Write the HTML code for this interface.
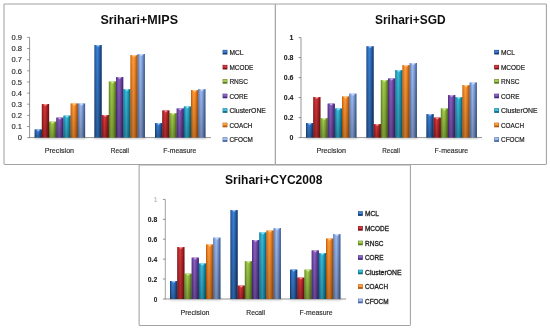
<!DOCTYPE html><html><head><meta charset="utf-8"><title>Srihari charts</title>
<style>html,body{margin:0;padding:0;background:#fff;}body{width:550px;height:330px;overflow:hidden;}svg{display:block;font-family:"Liberation Sans",sans-serif;}</style></head><body>
<svg width="550" height="330" viewBox="0 0 550 330">
<defs>
<linearGradient id="gMCL" x1="0" x2="1" y1="0" y2="0"><stop offset="0" stop-color="#183d78"/><stop offset="0.16" stop-color="#2a66b4"/><stop offset="0.4" stop-color="#3c84d8"/><stop offset="0.66" stop-color="#2a66b4"/><stop offset="0.9" stop-color="#183d78"/><stop offset="1" stop-color="#183d78"/></linearGradient>
<linearGradient id="gMCODE" x1="0" x2="1" y1="0" y2="0"><stop offset="0" stop-color="#78161a"/><stop offset="0.16" stop-color="#b82528"/><stop offset="0.4" stop-color="#d83a3e"/><stop offset="0.66" stop-color="#b82528"/><stop offset="0.9" stop-color="#78161a"/><stop offset="1" stop-color="#78161a"/></linearGradient>
<linearGradient id="gRNSC" x1="0" x2="1" y1="0" y2="0"><stop offset="0" stop-color="#5c7c20"/><stop offset="0.16" stop-color="#88b236"/><stop offset="0.4" stop-color="#a6d050"/><stop offset="0.66" stop-color="#88b236"/><stop offset="0.9" stop-color="#5c7c20"/><stop offset="1" stop-color="#5c7c20"/></linearGradient>
<linearGradient id="gCORE" x1="0" x2="1" y1="0" y2="0"><stop offset="0" stop-color="#472c7c"/><stop offset="0.16" stop-color="#6f46a4"/><stop offset="0.4" stop-color="#8c62c2"/><stop offset="0.66" stop-color="#6f46a4"/><stop offset="0.9" stop-color="#472c7c"/><stop offset="1" stop-color="#472c7c"/></linearGradient>
<linearGradient id="gClusterONE" x1="0" x2="1" y1="0" y2="0"><stop offset="0" stop-color="#146c86"/><stop offset="0.16" stop-color="#229cbc"/><stop offset="0.4" stop-color="#3cc0de"/><stop offset="0.66" stop-color="#229cbc"/><stop offset="0.9" stop-color="#146c86"/><stop offset="1" stop-color="#146c86"/></linearGradient>
<linearGradient id="gCOACH" x1="0" x2="1" y1="0" y2="0"><stop offset="0" stop-color="#b45808"/><stop offset="0.16" stop-color="#f07e1a"/><stop offset="0.4" stop-color="#ffa040"/><stop offset="0.66" stop-color="#f07e1a"/><stop offset="0.9" stop-color="#b45808"/><stop offset="1" stop-color="#b45808"/></linearGradient>
<linearGradient id="gCFOCM" x1="0" x2="1" y1="0" y2="0"><stop offset="0" stop-color="#4a68a2"/><stop offset="0.16" stop-color="#7a9ad6"/><stop offset="0.4" stop-color="#a2bef0"/><stop offset="0.66" stop-color="#7a9ad6"/><stop offset="0.9" stop-color="#4a68a2"/><stop offset="1" stop-color="#4a68a2"/></linearGradient>
<linearGradient id="shade" x1="0" x2="0" y1="0" y2="1"><stop offset="0" stop-color="#000" stop-opacity="0"/><stop offset="1" stop-color="#000" stop-opacity="0.26"/></linearGradient>
<filter id="soft" x="-5%" y="-5%" width="110%" height="110%"><feGaussianBlur stdDeviation="0.35"/></filter>
<filter id="sh" x="-5%" y="-50%" width="110%" height="200%"><feGaussianBlur stdDeviation="0.8"/></filter>
</defs>
<rect width="550" height="330" fill="#ffffff"/>
<g filter="url(#soft)">
<rect x="4" y="4" width="271.4" height="160.4" fill="#fff" stroke="#a2a2a2" stroke-width="1.05" rx="0.8"/>
<rect x="275.4" y="4" width="271.0" height="160.4" fill="#fff" stroke="#a2a2a2" stroke-width="1.05" rx="0.8"/>
<rect x="139.1" y="165" width="271.29999999999995" height="160.39999999999998" fill="#fff" stroke="#a2a2a2" stroke-width="1.05" rx="0.8"/>
<text x="100.4" y="23.6" font-size="12.6" font-weight="bold" fill="#111" textLength="77.6" lengthAdjust="spacingAndGlyphs">Srihari+MIPS</text>
<rect x="34.6" y="137.29999999999998" width="51.199999999999996" height="1.6" fill="#555" opacity="0.35" filter="url(#sh)"/>
<rect x="94.4" y="137.29999999999998" width="51.199999999999996" height="1.6" fill="#555" opacity="0.35" filter="url(#sh)"/>
<rect x="155" y="137.29999999999998" width="51.199999999999996" height="1.6" fill="#555" opacity="0.35" filter="url(#sh)"/>
<path d="M29.6 37.4V137.6" fill="none" stroke="#707070" stroke-width="0.75"/>
<path d="M29.200000000000003 137.6H211" fill="none" stroke="#707070" stroke-width="0.75"/>
<path d="M27.200000000000003 137.6H29.6" stroke="#707070" stroke-width="0.75"/>
<text x="22" y="140.3" font-size="7.6" text-anchor="end" fill="#1a1a1a" stroke="#1a1a1a" stroke-width="0.1">0</text>
<path d="M27.200000000000003 126.5H29.6" stroke="#707070" stroke-width="0.75"/>
<text x="22" y="129.2" font-size="7.6" text-anchor="end" fill="#1a1a1a" stroke="#1a1a1a" stroke-width="0.1">0.1</text>
<path d="M27.200000000000003 115.4H29.6" stroke="#707070" stroke-width="0.75"/>
<text x="22" y="118.1" font-size="7.6" text-anchor="end" fill="#1a1a1a" stroke="#1a1a1a" stroke-width="0.1">0.2</text>
<path d="M27.200000000000003 104.2H29.6" stroke="#707070" stroke-width="0.75"/>
<text x="22" y="106.9" font-size="7.6" text-anchor="end" fill="#1a1a1a" stroke="#1a1a1a" stroke-width="0.1">0.3</text>
<path d="M27.200000000000003 93.1H29.6" stroke="#707070" stroke-width="0.75"/>
<text x="22" y="95.8" font-size="7.6" text-anchor="end" fill="#1a1a1a" stroke="#1a1a1a" stroke-width="0.1">0.4</text>
<path d="M27.200000000000003 82H29.6" stroke="#707070" stroke-width="0.75"/>
<text x="22" y="84.7" font-size="7.6" text-anchor="end" fill="#1a1a1a" stroke="#1a1a1a" stroke-width="0.1">0.5</text>
<path d="M27.200000000000003 70.8H29.6" stroke="#707070" stroke-width="0.75"/>
<text x="22" y="73.5" font-size="7.6" text-anchor="end" fill="#1a1a1a" stroke="#1a1a1a" stroke-width="0.1">0.6</text>
<path d="M27.200000000000003 59.7H29.6" stroke="#707070" stroke-width="0.75"/>
<text x="22" y="62.4" font-size="7.6" text-anchor="end" fill="#1a1a1a" stroke="#1a1a1a" stroke-width="0.1">0.7</text>
<path d="M27.200000000000003 48.5H29.6" stroke="#707070" stroke-width="0.75"/>
<text x="22" y="51.2" font-size="7.6" text-anchor="end" fill="#1a1a1a" stroke="#1a1a1a" stroke-width="0.1">0.8</text>
<path d="M27.200000000000003 37.4H29.6" stroke="#707070" stroke-width="0.75"/>
<text x="22" y="40.1" font-size="7.6" text-anchor="end" fill="#1a1a1a" stroke="#1a1a1a" stroke-width="0.1">0.9</text>
<rect x="34.60" y="129.4" width="7.3500000000000005" height="8.2" fill="url(#gMCL)"/>
<rect x="34.60" y="129.4" width="7.3500000000000005" height="8.2" fill="url(#shade)"/>
<path d="M35.20 129.3L41.20 129.3L38.20 132.20000000000002Z" fill="#3c84d8"/>
<path d="M36.20 129.3L40.20 129.3L38.20 131.4Z" fill="#fff" opacity="0.5"/>
<rect x="41.80" y="104" width="7.3500000000000005" height="33.6" fill="url(#gMCODE)"/>
<rect x="41.80" y="104" width="7.3500000000000005" height="33.6" fill="url(#shade)"/>
<path d="M42.40 103.9L48.40 103.9L45.40 106.8Z" fill="#d83a3e"/>
<path d="M43.40 103.9L47.40 103.9L45.40 106.0Z" fill="#fff" opacity="0.5"/>
<rect x="49.00" y="121.6" width="7.3500000000000005" height="16.0" fill="url(#gRNSC)"/>
<rect x="49.00" y="121.6" width="7.3500000000000005" height="16.0" fill="url(#shade)"/>
<path d="M49.60 121.5L55.60 121.5L52.60 124.39999999999999Z" fill="#a6d050"/>
<path d="M50.60 121.5L54.60 121.5L52.60 123.6Z" fill="#fff" opacity="0.5"/>
<rect x="56.20" y="117.6" width="7.3500000000000005" height="20.0" fill="url(#gCORE)"/>
<rect x="56.20" y="117.6" width="7.3500000000000005" height="20.0" fill="url(#shade)"/>
<path d="M56.80 117.5L62.80 117.5L59.80 120.39999999999999Z" fill="#8c62c2"/>
<path d="M57.80 117.5L61.80 117.5L59.80 119.6Z" fill="#fff" opacity="0.5"/>
<rect x="63.40" y="115.6" width="7.3500000000000005" height="22.0" fill="url(#gClusterONE)"/>
<rect x="63.40" y="115.6" width="7.3500000000000005" height="22.0" fill="url(#shade)"/>
<path d="M64.00 115.5L70.00 115.5L67.00 118.39999999999999Z" fill="#3cc0de"/>
<path d="M65.00 115.5L69.00 115.5L67.00 117.6Z" fill="#fff" opacity="0.5"/>
<rect x="70.60" y="103.4" width="7.3500000000000005" height="34.2" fill="url(#gCOACH)"/>
<rect x="70.60" y="103.4" width="7.3500000000000005" height="34.2" fill="url(#shade)"/>
<path d="M71.20 103.30000000000001L77.20 103.30000000000001L74.20 106.2Z" fill="#ffa040"/>
<path d="M72.20 103.30000000000001L76.20 103.30000000000001L74.20 105.4Z" fill="#fff" opacity="0.5"/>
<rect x="77.80" y="103.4" width="7.3500000000000005" height="34.2" fill="url(#gCFOCM)"/>
<rect x="77.80" y="103.4" width="7.3500000000000005" height="34.2" fill="url(#shade)"/>
<path d="M78.40 103.30000000000001L84.40 103.30000000000001L81.40 106.2Z" fill="#a2bef0"/>
<path d="M79.40 103.30000000000001L83.40 103.30000000000001L81.40 105.4Z" fill="#fff" opacity="0.5"/>
<rect x="94.40" y="45" width="7.3500000000000005" height="92.6" fill="url(#gMCL)"/>
<rect x="94.40" y="45" width="7.3500000000000005" height="92.6" fill="url(#shade)"/>
<path d="M95.00 44.9L101.00 44.9L98.00 47.8Z" fill="#3c84d8"/>
<path d="M96.00 44.9L100.00 44.9L98.00 47.0Z" fill="#fff" opacity="0.5"/>
<rect x="101.60" y="115" width="7.3500000000000005" height="22.6" fill="url(#gMCODE)"/>
<rect x="101.60" y="115" width="7.3500000000000005" height="22.6" fill="url(#shade)"/>
<path d="M102.20 114.9L108.20 114.9L105.20 117.8Z" fill="#d83a3e"/>
<path d="M103.20 114.9L107.20 114.9L105.20 117.0Z" fill="#fff" opacity="0.5"/>
<rect x="108.80" y="81.4" width="7.3500000000000005" height="56.2" fill="url(#gRNSC)"/>
<rect x="108.80" y="81.4" width="7.3500000000000005" height="56.2" fill="url(#shade)"/>
<path d="M109.40 81.30000000000001L115.40 81.30000000000001L112.40 84.2Z" fill="#a6d050"/>
<path d="M110.40 81.30000000000001L114.40 81.30000000000001L112.40 83.4Z" fill="#fff" opacity="0.5"/>
<rect x="116.00" y="77" width="7.3500000000000005" height="60.6" fill="url(#gCORE)"/>
<rect x="116.00" y="77" width="7.3500000000000005" height="60.6" fill="url(#shade)"/>
<path d="M116.60 76.9L122.60 76.9L119.60 79.8Z" fill="#8c62c2"/>
<path d="M117.60 76.9L121.60 76.9L119.60 79.0Z" fill="#fff" opacity="0.5"/>
<rect x="123.20" y="89" width="7.3500000000000005" height="48.6" fill="url(#gClusterONE)"/>
<rect x="123.20" y="89" width="7.3500000000000005" height="48.6" fill="url(#shade)"/>
<path d="M123.80 88.9L129.80 88.9L126.80 91.8Z" fill="#3cc0de"/>
<path d="M124.80 88.9L128.80 88.9L126.80 91.0Z" fill="#fff" opacity="0.5"/>
<rect x="130.40" y="55" width="7.3500000000000005" height="82.6" fill="url(#gCOACH)"/>
<rect x="130.40" y="55" width="7.3500000000000005" height="82.6" fill="url(#shade)"/>
<path d="M131.00 54.9L137.00 54.9L134.00 57.8Z" fill="#ffa040"/>
<path d="M132.00 54.9L136.00 54.9L134.00 57.0Z" fill="#fff" opacity="0.5"/>
<rect x="137.60" y="54" width="7.3500000000000005" height="83.6" fill="url(#gCFOCM)"/>
<rect x="137.60" y="54" width="7.3500000000000005" height="83.6" fill="url(#shade)"/>
<path d="M138.20 53.9L144.20 53.9L141.20 56.8Z" fill="#a2bef0"/>
<path d="M139.20 53.9L143.20 53.9L141.20 56.0Z" fill="#fff" opacity="0.5"/>
<rect x="155.00" y="123" width="7.3500000000000005" height="14.6" fill="url(#gMCL)"/>
<rect x="155.00" y="123" width="7.3500000000000005" height="14.6" fill="url(#shade)"/>
<path d="M155.60 122.9L161.60 122.9L158.60 125.8Z" fill="#3c84d8"/>
<path d="M156.60 122.9L160.60 122.9L158.60 125.0Z" fill="#fff" opacity="0.5"/>
<rect x="162.20" y="110.4" width="7.3500000000000005" height="27.2" fill="url(#gMCODE)"/>
<rect x="162.20" y="110.4" width="7.3500000000000005" height="27.2" fill="url(#shade)"/>
<path d="M162.80 110.30000000000001L168.80 110.30000000000001L165.80 113.2Z" fill="#d83a3e"/>
<path d="M163.80 110.30000000000001L167.80 110.30000000000001L165.80 112.4Z" fill="#fff" opacity="0.5"/>
<rect x="169.40" y="113" width="7.3500000000000005" height="24.6" fill="url(#gRNSC)"/>
<rect x="169.40" y="113" width="7.3500000000000005" height="24.6" fill="url(#shade)"/>
<path d="M170.00 112.9L176.00 112.9L173.00 115.8Z" fill="#a6d050"/>
<path d="M171.00 112.9L175.00 112.9L173.00 115.0Z" fill="#fff" opacity="0.5"/>
<rect x="176.60" y="108.4" width="7.3500000000000005" height="29.2" fill="url(#gCORE)"/>
<rect x="176.60" y="108.4" width="7.3500000000000005" height="29.2" fill="url(#shade)"/>
<path d="M177.20 108.30000000000001L183.20 108.30000000000001L180.20 111.2Z" fill="#8c62c2"/>
<path d="M178.20 108.30000000000001L182.20 108.30000000000001L180.20 110.4Z" fill="#fff" opacity="0.5"/>
<rect x="183.80" y="106.4" width="7.3500000000000005" height="31.2" fill="url(#gClusterONE)"/>
<rect x="183.80" y="106.4" width="7.3500000000000005" height="31.2" fill="url(#shade)"/>
<path d="M184.40 106.30000000000001L190.40 106.30000000000001L187.40 109.2Z" fill="#3cc0de"/>
<path d="M185.40 106.30000000000001L189.40 106.30000000000001L187.40 108.4Z" fill="#fff" opacity="0.5"/>
<rect x="191.00" y="90" width="7.3500000000000005" height="47.6" fill="url(#gCOACH)"/>
<rect x="191.00" y="90" width="7.3500000000000005" height="47.6" fill="url(#shade)"/>
<path d="M191.60 89.9L197.60 89.9L194.60 92.8Z" fill="#ffa040"/>
<path d="M192.60 89.9L196.60 89.9L194.60 92.0Z" fill="#fff" opacity="0.5"/>
<rect x="198.20" y="89" width="7.3500000000000005" height="48.6" fill="url(#gCFOCM)"/>
<rect x="198.20" y="89" width="7.3500000000000005" height="48.6" fill="url(#shade)"/>
<path d="M198.80 88.9L204.80 88.9L201.80 91.8Z" fill="#a2bef0"/>
<path d="M199.80 88.9L203.80 88.9L201.80 91.0Z" fill="#fff" opacity="0.5"/>
<text x="44.7" y="153.2" font-size="7.2" fill="#2a2a2a" stroke="#2a2a2a" stroke-width="0.15" textLength="29.4" lengthAdjust="spacingAndGlyphs">Precision</text>
<text x="110.8" y="153.2" font-size="7.2" fill="#2a2a2a" stroke="#2a2a2a" stroke-width="0.15" textLength="18.2" lengthAdjust="spacingAndGlyphs">Recall</text>
<text x="163.3" y="153.2" font-size="7.2" fill="#2a2a2a" stroke="#2a2a2a" stroke-width="0.15" textLength="33" lengthAdjust="spacingAndGlyphs">F-measure</text>
<rect x="222.6" y="49.9" width="4.8" height="4.6" fill="#183d78"/>
<rect x="223.1" y="50.3" width="3.8" height="2.4" fill="#3c84d8"/>
<text x="229.4" y="54.8" font-size="7" fill="#1c1c1c" stroke="#1c1c1c" stroke-width="0.2" textLength="14" lengthAdjust="spacingAndGlyphs">MCL</text>
<rect x="222.6" y="64.9" width="4.8" height="4.6" fill="#78161a"/>
<rect x="223.1" y="65.3" width="3.8" height="2.4" fill="#d83a3e"/>
<text x="229.4" y="69.8" font-size="7" fill="#1c1c1c" stroke="#1c1c1c" stroke-width="0.2" textLength="24" lengthAdjust="spacingAndGlyphs">MCODE</text>
<rect x="222.6" y="79.1" width="4.8" height="4.6" fill="#5c7c20"/>
<rect x="223.1" y="79.5" width="3.8" height="2.4" fill="#a6d050"/>
<text x="229.4" y="84.0" font-size="7" fill="#1c1c1c" stroke="#1c1c1c" stroke-width="0.2" textLength="18.5" lengthAdjust="spacingAndGlyphs">RNSC</text>
<rect x="222.6" y="93.7" width="4.8" height="4.6" fill="#472c7c"/>
<rect x="223.1" y="94.1" width="3.8" height="2.4" fill="#8c62c2"/>
<text x="229.4" y="98.6" font-size="7" fill="#1c1c1c" stroke="#1c1c1c" stroke-width="0.2" textLength="18.5" lengthAdjust="spacingAndGlyphs">CORE</text>
<rect x="222.6" y="108.3" width="4.8" height="4.6" fill="#146c86"/>
<rect x="223.1" y="108.7" width="3.8" height="2.4" fill="#3cc0de"/>
<text x="229.4" y="113.2" font-size="7" fill="#1c1c1c" stroke="#1c1c1c" stroke-width="0.2" textLength="36.5" lengthAdjust="spacingAndGlyphs">ClusterONE</text>
<rect x="222.6" y="122.7" width="4.8" height="4.6" fill="#b45808"/>
<rect x="223.1" y="123.1" width="3.8" height="2.4" fill="#ffa040"/>
<text x="229.4" y="127.6" font-size="7" fill="#1c1c1c" stroke="#1c1c1c" stroke-width="0.2" textLength="23" lengthAdjust="spacingAndGlyphs">COACH</text>
<rect x="222.6" y="137.3" width="4.8" height="4.6" fill="#4a68a2"/>
<rect x="223.1" y="137.7" width="3.8" height="2.4" fill="#a2bef0"/>
<text x="229.4" y="142.2" font-size="7" fill="#1c1c1c" stroke="#1c1c1c" stroke-width="0.2" textLength="23.5" lengthAdjust="spacingAndGlyphs">CFOCM</text>
<text x="375" y="23.6" font-size="12.6" font-weight="bold" fill="#111" textLength="70.6" lengthAdjust="spacingAndGlyphs">Srihari+SGD</text>
<rect x="306" y="137.29999999999998" width="51.199999999999996" height="1.6" fill="#555" opacity="0.35" filter="url(#sh)"/>
<rect x="366.4" y="137.29999999999998" width="51.199999999999996" height="1.6" fill="#555" opacity="0.35" filter="url(#sh)"/>
<rect x="426.4" y="137.29999999999998" width="51.199999999999996" height="1.6" fill="#555" opacity="0.35" filter="url(#sh)"/>
<path d="M301 37.6V137.6" fill="none" stroke="#a8a8a8" stroke-width="1.2"/>
<path d="M300.6 137.6H482" fill="none" stroke="#707070" stroke-width="0.75"/>
<path d="M298.6 137.6H301" stroke="#707070" stroke-width="0.75"/>
<text x="293.5" y="140.1" font-size="7.0" font-weight="bold" text-anchor="end" fill="#1a1a1a" stroke="#1a1a1a" stroke-width="0.08">0</text>
<path d="M298.6 117.6H301" stroke="#707070" stroke-width="0.75"/>
<text x="293.5" y="120.1" font-size="7.0" font-weight="bold" text-anchor="end" fill="#1a1a1a" stroke="#1a1a1a" stroke-width="0.08">0.2</text>
<path d="M298.6 97.6H301" stroke="#707070" stroke-width="0.75"/>
<text x="293.5" y="100.1" font-size="7.0" font-weight="bold" text-anchor="end" fill="#1a1a1a" stroke="#1a1a1a" stroke-width="0.08">0.4</text>
<path d="M298.6 77.6H301" stroke="#707070" stroke-width="0.75"/>
<text x="293.5" y="80.1" font-size="7.0" font-weight="bold" text-anchor="end" fill="#1a1a1a" stroke="#1a1a1a" stroke-width="0.08">0.6</text>
<path d="M298.6 57.6H301" stroke="#707070" stroke-width="0.75"/>
<text x="293.5" y="60.1" font-size="7.0" font-weight="bold" text-anchor="end" fill="#1a1a1a" stroke="#1a1a1a" stroke-width="0.08">0.8</text>
<path d="M298.6 37.6H301" stroke="#707070" stroke-width="0.75"/>
<text x="293.5" y="40.1" font-size="7.0" font-weight="bold" text-anchor="end" fill="#1a1a1a" stroke="#1a1a1a" stroke-width="0.08">1</text>
<rect x="306.00" y="123" width="7.3500000000000005" height="14.6" fill="url(#gMCL)"/>
<rect x="306.00" y="123" width="7.3500000000000005" height="14.6" fill="url(#shade)"/>
<path d="M306.60 122.9L312.60 122.9L309.60 125.8Z" fill="#3c84d8"/>
<path d="M307.60 122.9L311.60 122.9L309.60 125.0Z" fill="#fff" opacity="0.5"/>
<rect x="313.20" y="97" width="7.3500000000000005" height="40.6" fill="url(#gMCODE)"/>
<rect x="313.20" y="97" width="7.3500000000000005" height="40.6" fill="url(#shade)"/>
<path d="M313.80 96.9L319.80 96.9L316.80 99.8Z" fill="#d83a3e"/>
<path d="M314.80 96.9L318.80 96.9L316.80 99.0Z" fill="#fff" opacity="0.5"/>
<rect x="320.40" y="118" width="7.3500000000000005" height="19.6" fill="url(#gRNSC)"/>
<rect x="320.40" y="118" width="7.3500000000000005" height="19.6" fill="url(#shade)"/>
<path d="M321.00 117.9L327.00 117.9L324.00 120.8Z" fill="#a6d050"/>
<path d="M322.00 117.9L326.00 117.9L324.00 120.0Z" fill="#fff" opacity="0.5"/>
<rect x="327.60" y="103.6" width="7.3500000000000005" height="34.0" fill="url(#gCORE)"/>
<rect x="327.60" y="103.6" width="7.3500000000000005" height="34.0" fill="url(#shade)"/>
<path d="M328.20 103.5L334.20 103.5L331.20 106.39999999999999Z" fill="#8c62c2"/>
<path d="M329.20 103.5L333.20 103.5L331.20 105.6Z" fill="#fff" opacity="0.5"/>
<rect x="334.80" y="108.4" width="7.3500000000000005" height="29.2" fill="url(#gClusterONE)"/>
<rect x="334.80" y="108.4" width="7.3500000000000005" height="29.2" fill="url(#shade)"/>
<path d="M335.40 108.30000000000001L341.40 108.30000000000001L338.40 111.2Z" fill="#3cc0de"/>
<path d="M336.40 108.30000000000001L340.40 108.30000000000001L338.40 110.4Z" fill="#fff" opacity="0.5"/>
<rect x="342.00" y="96.4" width="7.3500000000000005" height="41.2" fill="url(#gCOACH)"/>
<rect x="342.00" y="96.4" width="7.3500000000000005" height="41.2" fill="url(#shade)"/>
<path d="M342.60 96.30000000000001L348.60 96.30000000000001L345.60 99.2Z" fill="#ffa040"/>
<path d="M343.60 96.30000000000001L347.60 96.30000000000001L345.60 98.4Z" fill="#fff" opacity="0.5"/>
<rect x="349.20" y="93.6" width="7.3500000000000005" height="44.0" fill="url(#gCFOCM)"/>
<rect x="349.20" y="93.6" width="7.3500000000000005" height="44.0" fill="url(#shade)"/>
<path d="M349.80 93.5L355.80 93.5L352.80 96.39999999999999Z" fill="#a2bef0"/>
<path d="M350.80 93.5L354.80 93.5L352.80 95.6Z" fill="#fff" opacity="0.5"/>
<rect x="366.40" y="46.2" width="7.3500000000000005" height="91.4" fill="url(#gMCL)"/>
<rect x="366.40" y="46.2" width="7.3500000000000005" height="91.4" fill="url(#shade)"/>
<path d="M367.00 46.1L373.00 46.1L370.00 49.0Z" fill="#3c84d8"/>
<path d="M368.00 46.1L372.00 46.1L370.00 48.2Z" fill="#fff" opacity="0.5"/>
<rect x="373.60" y="124" width="7.3500000000000005" height="13.6" fill="url(#gMCODE)"/>
<rect x="373.60" y="124" width="7.3500000000000005" height="13.6" fill="url(#shade)"/>
<path d="M374.20 123.9L380.20 123.9L377.20 126.8Z" fill="#d83a3e"/>
<path d="M375.20 123.9L379.20 123.9L377.20 126.0Z" fill="#fff" opacity="0.5"/>
<rect x="380.80" y="80" width="7.3500000000000005" height="57.6" fill="url(#gRNSC)"/>
<rect x="380.80" y="80" width="7.3500000000000005" height="57.6" fill="url(#shade)"/>
<path d="M381.40 79.9L387.40 79.9L384.40 82.8Z" fill="#a6d050"/>
<path d="M382.40 79.9L386.40 79.9L384.40 82.0Z" fill="#fff" opacity="0.5"/>
<rect x="388.00" y="78.4" width="7.3500000000000005" height="59.2" fill="url(#gCORE)"/>
<rect x="388.00" y="78.4" width="7.3500000000000005" height="59.2" fill="url(#shade)"/>
<path d="M388.60 78.30000000000001L394.60 78.30000000000001L391.60 81.2Z" fill="#8c62c2"/>
<path d="M389.60 78.30000000000001L393.60 78.30000000000001L391.60 80.4Z" fill="#fff" opacity="0.5"/>
<rect x="395.20" y="70" width="7.3500000000000005" height="67.6" fill="url(#gClusterONE)"/>
<rect x="395.20" y="70" width="7.3500000000000005" height="67.6" fill="url(#shade)"/>
<path d="M395.80 69.9L401.80 69.9L398.80 72.8Z" fill="#3cc0de"/>
<path d="M396.80 69.9L400.80 69.9L398.80 72.0Z" fill="#fff" opacity="0.5"/>
<rect x="402.40" y="65" width="7.3500000000000005" height="72.6" fill="url(#gCOACH)"/>
<rect x="402.40" y="65" width="7.3500000000000005" height="72.6" fill="url(#shade)"/>
<path d="M403.00 64.9L409.00 64.9L406.00 67.8Z" fill="#ffa040"/>
<path d="M404.00 64.9L408.00 64.9L406.00 67.0Z" fill="#fff" opacity="0.5"/>
<rect x="409.60" y="63" width="7.3500000000000005" height="74.6" fill="url(#gCFOCM)"/>
<rect x="409.60" y="63" width="7.3500000000000005" height="74.6" fill="url(#shade)"/>
<path d="M410.20 62.9L416.20 62.9L413.20 65.8Z" fill="#a2bef0"/>
<path d="M411.20 62.9L415.20 62.9L413.20 65.0Z" fill="#fff" opacity="0.5"/>
<rect x="426.40" y="114" width="7.3500000000000005" height="23.6" fill="url(#gMCL)"/>
<rect x="426.40" y="114" width="7.3500000000000005" height="23.6" fill="url(#shade)"/>
<path d="M427.00 113.9L433.00 113.9L430.00 116.8Z" fill="#3c84d8"/>
<path d="M428.00 113.9L432.00 113.9L430.00 116.0Z" fill="#fff" opacity="0.5"/>
<rect x="433.60" y="117.6" width="7.3500000000000005" height="20.0" fill="url(#gMCODE)"/>
<rect x="433.60" y="117.6" width="7.3500000000000005" height="20.0" fill="url(#shade)"/>
<path d="M434.20 117.5L440.20 117.5L437.20 120.39999999999999Z" fill="#d83a3e"/>
<path d="M435.20 117.5L439.20 117.5L437.20 119.6Z" fill="#fff" opacity="0.5"/>
<rect x="440.80" y="108.4" width="7.3500000000000005" height="29.2" fill="url(#gRNSC)"/>
<rect x="440.80" y="108.4" width="7.3500000000000005" height="29.2" fill="url(#shade)"/>
<path d="M441.40 108.30000000000001L447.40 108.30000000000001L444.40 111.2Z" fill="#a6d050"/>
<path d="M442.40 108.30000000000001L446.40 108.30000000000001L444.40 110.4Z" fill="#fff" opacity="0.5"/>
<rect x="448.00" y="95" width="7.3500000000000005" height="42.6" fill="url(#gCORE)"/>
<rect x="448.00" y="95" width="7.3500000000000005" height="42.6" fill="url(#shade)"/>
<path d="M448.60 94.9L454.60 94.9L451.60 97.8Z" fill="#8c62c2"/>
<path d="M449.60 94.9L453.60 94.9L451.60 97.0Z" fill="#fff" opacity="0.5"/>
<rect x="455.20" y="97" width="7.3500000000000005" height="40.6" fill="url(#gClusterONE)"/>
<rect x="455.20" y="97" width="7.3500000000000005" height="40.6" fill="url(#shade)"/>
<path d="M455.80 96.9L461.80 96.9L458.80 99.8Z" fill="#3cc0de"/>
<path d="M456.80 96.9L460.80 96.9L458.80 99.0Z" fill="#fff" opacity="0.5"/>
<rect x="462.40" y="85" width="7.3500000000000005" height="52.6" fill="url(#gCOACH)"/>
<rect x="462.40" y="85" width="7.3500000000000005" height="52.6" fill="url(#shade)"/>
<path d="M463.00 84.9L469.00 84.9L466.00 87.8Z" fill="#ffa040"/>
<path d="M464.00 84.9L468.00 84.9L466.00 87.0Z" fill="#fff" opacity="0.5"/>
<rect x="469.60" y="82.4" width="7.3500000000000005" height="55.2" fill="url(#gCFOCM)"/>
<rect x="469.60" y="82.4" width="7.3500000000000005" height="55.2" fill="url(#shade)"/>
<path d="M470.20 82.30000000000001L476.20 82.30000000000001L473.20 85.2Z" fill="#a2bef0"/>
<path d="M471.20 82.30000000000001L475.20 82.30000000000001L473.20 84.4Z" fill="#fff" opacity="0.5"/>
<text x="316.4" y="153.2" font-size="7.2" fill="#2a2a2a" stroke="#2a2a2a" stroke-width="0.15" textLength="29.6" lengthAdjust="spacingAndGlyphs">Precision</text>
<text x="382.3" y="153.2" font-size="7.2" fill="#2a2a2a" stroke="#2a2a2a" stroke-width="0.15" textLength="17.6" lengthAdjust="spacingAndGlyphs">Recall</text>
<text x="434.6" y="153.2" font-size="7.2" fill="#2a2a2a" stroke="#2a2a2a" stroke-width="0.15" textLength="33.6" lengthAdjust="spacingAndGlyphs">F-measure</text>
<rect x="494.2" y="49.9" width="4.8" height="4.6" fill="#183d78"/>
<rect x="494.7" y="50.3" width="3.8" height="2.4" fill="#3c84d8"/>
<text x="501" y="54.8" font-size="7" fill="#1c1c1c" stroke="#1c1c1c" stroke-width="0.2" textLength="14" lengthAdjust="spacingAndGlyphs">MCL</text>
<rect x="494.2" y="64.9" width="4.8" height="4.6" fill="#78161a"/>
<rect x="494.7" y="65.3" width="3.8" height="2.4" fill="#d83a3e"/>
<text x="501" y="69.8" font-size="7" fill="#1c1c1c" stroke="#1c1c1c" stroke-width="0.2" textLength="24" lengthAdjust="spacingAndGlyphs">MCODE</text>
<rect x="494.2" y="79.1" width="4.8" height="4.6" fill="#5c7c20"/>
<rect x="494.7" y="79.5" width="3.8" height="2.4" fill="#a6d050"/>
<text x="501" y="84.0" font-size="7" fill="#1c1c1c" stroke="#1c1c1c" stroke-width="0.2" textLength="18.5" lengthAdjust="spacingAndGlyphs">RNSC</text>
<rect x="494.2" y="93.7" width="4.8" height="4.6" fill="#472c7c"/>
<rect x="494.7" y="94.1" width="3.8" height="2.4" fill="#8c62c2"/>
<text x="501" y="98.6" font-size="7" fill="#1c1c1c" stroke="#1c1c1c" stroke-width="0.2" textLength="18.5" lengthAdjust="spacingAndGlyphs">CORE</text>
<rect x="494.2" y="108.3" width="4.8" height="4.6" fill="#146c86"/>
<rect x="494.7" y="108.7" width="3.8" height="2.4" fill="#3cc0de"/>
<text x="501" y="113.2" font-size="7" fill="#1c1c1c" stroke="#1c1c1c" stroke-width="0.2" textLength="36.5" lengthAdjust="spacingAndGlyphs">ClusterONE</text>
<rect x="494.2" y="122.7" width="4.8" height="4.6" fill="#b45808"/>
<rect x="494.7" y="123.1" width="3.8" height="2.4" fill="#ffa040"/>
<text x="501" y="127.6" font-size="7" fill="#1c1c1c" stroke="#1c1c1c" stroke-width="0.2" textLength="23" lengthAdjust="spacingAndGlyphs">COACH</text>
<rect x="494.2" y="137.3" width="4.8" height="4.6" fill="#4a68a2"/>
<rect x="494.7" y="137.7" width="3.8" height="2.4" fill="#a2bef0"/>
<text x="501" y="142.2" font-size="7" fill="#1c1c1c" stroke="#1c1c1c" stroke-width="0.2" textLength="23.5" lengthAdjust="spacingAndGlyphs">CFOCM</text>
<text x="225" y="184.4" font-size="12.6" font-weight="bold" fill="#111" textLength="97.4" lengthAdjust="spacingAndGlyphs">Srihari+CYC2008</text>
<rect x="170" y="298.7" width="51.199999999999996" height="1.6" fill="#555" opacity="0.35" filter="url(#sh)"/>
<rect x="230.4" y="298.7" width="51.199999999999996" height="1.6" fill="#555" opacity="0.35" filter="url(#sh)"/>
<rect x="290" y="298.7" width="51.199999999999996" height="1.6" fill="#555" opacity="0.35" filter="url(#sh)"/>
<path d="M165.3 199.4V299" fill="none" stroke="#8c8c8c" stroke-width="0.8"/>
<path d="M164.9 299H346" fill="none" stroke="#707070" stroke-width="0.75"/>
<path d="M162.9 299H165.3" stroke="#707070" stroke-width="0.75"/>
<text x="157.2" y="301.9" font-size="6.3" font-weight="bold" text-anchor="end" fill="#1a1a1a" stroke="#1a1a1a" stroke-width="0.08">0</text>
<path d="M162.9 279H165.3" stroke="#707070" stroke-width="0.75"/>
<text x="157.2" y="281.9" font-size="6.3" font-weight="bold" textLength="9.4" lengthAdjust="spacingAndGlyphs" text-anchor="end" fill="#1a1a1a" stroke="#1a1a1a" stroke-width="0.08">0.2</text>
<path d="M162.9 259.1H165.3" stroke="#707070" stroke-width="0.75"/>
<text x="157.2" y="262.0" font-size="6.3" font-weight="bold" textLength="9.4" lengthAdjust="spacingAndGlyphs" text-anchor="end" fill="#1a1a1a" stroke="#1a1a1a" stroke-width="0.08">0.4</text>
<path d="M162.9 239.2H165.3" stroke="#707070" stroke-width="0.75"/>
<text x="157.2" y="242.1" font-size="6.3" font-weight="bold" textLength="9.4" lengthAdjust="spacingAndGlyphs" text-anchor="end" fill="#1a1a1a" stroke="#1a1a1a" stroke-width="0.08">0.6</text>
<path d="M162.9 219.3H165.3" stroke="#707070" stroke-width="0.75"/>
<text x="157.2" y="222.2" font-size="6.3" font-weight="bold" textLength="9.4" lengthAdjust="spacingAndGlyphs" text-anchor="end" fill="#1a1a1a" stroke="#1a1a1a" stroke-width="0.08">0.8</text>
<path d="M162.9 199.4H165.3" stroke="#707070" stroke-width="0.75"/>
<text x="157.2" y="202.3" font-size="6.3" font-weight="bold" text-anchor="end" fill="#c4c4c4" stroke="#c4c4c4" stroke-width="0.08">1</text>
<rect x="170.00" y="281" width="7.3500000000000005" height="18.0" fill="url(#gMCL)"/>
<rect x="170.00" y="281" width="7.3500000000000005" height="18.0" fill="url(#shade)"/>
<path d="M170.60 280.9L176.60 280.9L173.60 283.8Z" fill="#3c84d8"/>
<path d="M171.60 280.9L175.60 280.9L173.60 283.0Z" fill="#fff" opacity="0.5"/>
<rect x="177.20" y="247" width="7.3500000000000005" height="52.0" fill="url(#gMCODE)"/>
<rect x="177.20" y="247" width="7.3500000000000005" height="52.0" fill="url(#shade)"/>
<path d="M177.80 246.9L183.80 246.9L180.80 249.8Z" fill="#d83a3e"/>
<path d="M178.80 246.9L182.80 246.9L180.80 249.0Z" fill="#fff" opacity="0.5"/>
<rect x="184.40" y="273.6" width="7.3500000000000005" height="25.4" fill="url(#gRNSC)"/>
<rect x="184.40" y="273.6" width="7.3500000000000005" height="25.4" fill="url(#shade)"/>
<path d="M185.00 273.5L191.00 273.5L188.00 276.40000000000003Z" fill="#a6d050"/>
<path d="M186.00 273.5L190.00 273.5L188.00 275.6Z" fill="#fff" opacity="0.5"/>
<rect x="191.60" y="257.6" width="7.3500000000000005" height="41.4" fill="url(#gCORE)"/>
<rect x="191.60" y="257.6" width="7.3500000000000005" height="41.4" fill="url(#shade)"/>
<path d="M192.20 257.5L198.20 257.5L195.20 260.40000000000003Z" fill="#8c62c2"/>
<path d="M193.20 257.5L197.20 257.5L195.20 259.6Z" fill="#fff" opacity="0.5"/>
<rect x="198.80" y="263.4" width="7.3500000000000005" height="35.6" fill="url(#gClusterONE)"/>
<rect x="198.80" y="263.4" width="7.3500000000000005" height="35.6" fill="url(#shade)"/>
<path d="M199.40 263.29999999999995L205.40 263.29999999999995L202.40 266.2Z" fill="#3cc0de"/>
<path d="M200.40 263.29999999999995L204.40 263.29999999999995L202.40 265.4Z" fill="#fff" opacity="0.5"/>
<rect x="206.00" y="244.4" width="7.3500000000000005" height="54.6" fill="url(#gCOACH)"/>
<rect x="206.00" y="244.4" width="7.3500000000000005" height="54.6" fill="url(#shade)"/>
<path d="M206.60 244.3L212.60 244.3L209.60 247.20000000000002Z" fill="#ffa040"/>
<path d="M207.60 244.3L211.60 244.3L209.60 246.4Z" fill="#fff" opacity="0.5"/>
<rect x="213.20" y="237.6" width="7.3500000000000005" height="61.4" fill="url(#gCFOCM)"/>
<rect x="213.20" y="237.6" width="7.3500000000000005" height="61.4" fill="url(#shade)"/>
<path d="M213.80 237.5L219.80 237.5L216.80 240.4Z" fill="#a2bef0"/>
<path d="M214.80 237.5L218.80 237.5L216.80 239.6Z" fill="#fff" opacity="0.5"/>
<rect x="230.40" y="210" width="7.3500000000000005" height="89.0" fill="url(#gMCL)"/>
<rect x="230.40" y="210" width="7.3500000000000005" height="89.0" fill="url(#shade)"/>
<path d="M231.00 209.9L237.00 209.9L234.00 212.8Z" fill="#3c84d8"/>
<path d="M232.00 209.9L236.00 209.9L234.00 212.0Z" fill="#fff" opacity="0.5"/>
<rect x="237.60" y="285.6" width="7.3500000000000005" height="13.4" fill="url(#gMCODE)"/>
<rect x="237.60" y="285.6" width="7.3500000000000005" height="13.4" fill="url(#shade)"/>
<path d="M238.20 285.5L244.20 285.5L241.20 288.40000000000003Z" fill="#d83a3e"/>
<path d="M239.20 285.5L243.20 285.5L241.20 287.6Z" fill="#fff" opacity="0.5"/>
<rect x="244.80" y="261" width="7.3500000000000005" height="38.0" fill="url(#gRNSC)"/>
<rect x="244.80" y="261" width="7.3500000000000005" height="38.0" fill="url(#shade)"/>
<path d="M245.40 260.9L251.40 260.9L248.40 263.8Z" fill="#a6d050"/>
<path d="M246.40 260.9L250.40 260.9L248.40 263.0Z" fill="#fff" opacity="0.5"/>
<rect x="252.00" y="240" width="7.3500000000000005" height="59.0" fill="url(#gCORE)"/>
<rect x="252.00" y="240" width="7.3500000000000005" height="59.0" fill="url(#shade)"/>
<path d="M252.60 239.9L258.60 239.9L255.60 242.8Z" fill="#8c62c2"/>
<path d="M253.60 239.9L257.60 239.9L255.60 242.0Z" fill="#fff" opacity="0.5"/>
<rect x="259.20" y="232.4" width="7.3500000000000005" height="66.6" fill="url(#gClusterONE)"/>
<rect x="259.20" y="232.4" width="7.3500000000000005" height="66.6" fill="url(#shade)"/>
<path d="M259.80 232.3L265.80 232.3L262.80 235.20000000000002Z" fill="#3cc0de"/>
<path d="M260.80 232.3L264.80 232.3L262.80 234.4Z" fill="#fff" opacity="0.5"/>
<rect x="266.40" y="230.4" width="7.3500000000000005" height="68.6" fill="url(#gCOACH)"/>
<rect x="266.40" y="230.4" width="7.3500000000000005" height="68.6" fill="url(#shade)"/>
<path d="M267.00 230.3L273.00 230.3L270.00 233.20000000000002Z" fill="#ffa040"/>
<path d="M268.00 230.3L272.00 230.3L270.00 232.4Z" fill="#fff" opacity="0.5"/>
<rect x="273.60" y="228" width="7.3500000000000005" height="71.0" fill="url(#gCFOCM)"/>
<rect x="273.60" y="228" width="7.3500000000000005" height="71.0" fill="url(#shade)"/>
<path d="M274.20 227.9L280.20 227.9L277.20 230.8Z" fill="#a2bef0"/>
<path d="M275.20 227.9L279.20 227.9L277.20 230.0Z" fill="#fff" opacity="0.5"/>
<rect x="290.00" y="269.6" width="7.3500000000000005" height="29.4" fill="url(#gMCL)"/>
<rect x="290.00" y="269.6" width="7.3500000000000005" height="29.4" fill="url(#shade)"/>
<path d="M290.60 269.5L296.60 269.5L293.60 272.40000000000003Z" fill="#3c84d8"/>
<path d="M291.60 269.5L295.60 269.5L293.60 271.6Z" fill="#fff" opacity="0.5"/>
<rect x="297.20" y="277.6" width="7.3500000000000005" height="21.4" fill="url(#gMCODE)"/>
<rect x="297.20" y="277.6" width="7.3500000000000005" height="21.4" fill="url(#shade)"/>
<path d="M297.80 277.5L303.80 277.5L300.80 280.40000000000003Z" fill="#d83a3e"/>
<path d="M298.80 277.5L302.80 277.5L300.80 279.6Z" fill="#fff" opacity="0.5"/>
<rect x="304.40" y="269.6" width="7.3500000000000005" height="29.4" fill="url(#gRNSC)"/>
<rect x="304.40" y="269.6" width="7.3500000000000005" height="29.4" fill="url(#shade)"/>
<path d="M305.00 269.5L311.00 269.5L308.00 272.40000000000003Z" fill="#a6d050"/>
<path d="M306.00 269.5L310.00 269.5L308.00 271.6Z" fill="#fff" opacity="0.5"/>
<rect x="311.60" y="250.4" width="7.3500000000000005" height="48.6" fill="url(#gCORE)"/>
<rect x="311.60" y="250.4" width="7.3500000000000005" height="48.6" fill="url(#shade)"/>
<path d="M312.20 250.3L318.20 250.3L315.20 253.20000000000002Z" fill="#8c62c2"/>
<path d="M313.20 250.3L317.20 250.3L315.20 252.4Z" fill="#fff" opacity="0.5"/>
<rect x="318.80" y="253" width="7.3500000000000005" height="46.0" fill="url(#gClusterONE)"/>
<rect x="318.80" y="253" width="7.3500000000000005" height="46.0" fill="url(#shade)"/>
<path d="M319.40 252.9L325.40 252.9L322.40 255.8Z" fill="#3cc0de"/>
<path d="M320.40 252.9L324.40 252.9L322.40 255.0Z" fill="#fff" opacity="0.5"/>
<rect x="326.00" y="238.4" width="7.3500000000000005" height="60.6" fill="url(#gCOACH)"/>
<rect x="326.00" y="238.4" width="7.3500000000000005" height="60.6" fill="url(#shade)"/>
<path d="M326.60 238.3L332.60 238.3L329.60 241.20000000000002Z" fill="#ffa040"/>
<path d="M327.60 238.3L331.60 238.3L329.60 240.4Z" fill="#fff" opacity="0.5"/>
<rect x="333.20" y="234" width="7.3500000000000005" height="65.0" fill="url(#gCFOCM)"/>
<rect x="333.20" y="234" width="7.3500000000000005" height="65.0" fill="url(#shade)"/>
<path d="M333.80 233.9L339.80 233.9L336.80 236.8Z" fill="#a2bef0"/>
<path d="M334.80 233.9L338.80 233.9L336.80 236.0Z" fill="#fff" opacity="0.5"/>
<text x="180.5" y="314.5" font-size="7.2" fill="#2a2a2a" stroke="#2a2a2a" stroke-width="0.15" textLength="29" lengthAdjust="spacingAndGlyphs">Precision</text>
<text x="246.3" y="314.5" font-size="7.2" fill="#2a2a2a" stroke="#2a2a2a" stroke-width="0.15" textLength="18.8" lengthAdjust="spacingAndGlyphs">Recall</text>
<text x="299.5" y="314.5" font-size="7.2" fill="#2a2a2a" stroke="#2a2a2a" stroke-width="0.15" textLength="33" lengthAdjust="spacingAndGlyphs">F-measure</text>
<rect x="358" y="211.3" width="4.8" height="4.6" fill="#183d78"/>
<rect x="358.5" y="211.7" width="3.8" height="2.4" fill="#3c84d8"/>
<text x="365" y="216.2" font-size="6.8" fill="#1c1c1c" stroke="#1c1c1c" stroke-width="0.3" textLength="14" lengthAdjust="spacingAndGlyphs">MCL</text>
<rect x="358" y="226.1" width="4.8" height="4.6" fill="#78161a"/>
<rect x="358.5" y="226.5" width="3.8" height="2.4" fill="#d83a3e"/>
<text x="365" y="231.0" font-size="6.8" fill="#1c1c1c" stroke="#1c1c1c" stroke-width="0.3" textLength="24" lengthAdjust="spacingAndGlyphs">MCODE</text>
<rect x="358" y="240.7" width="4.8" height="4.6" fill="#5c7c20"/>
<rect x="358.5" y="241.1" width="3.8" height="2.4" fill="#a6d050"/>
<text x="365" y="245.6" font-size="6.8" fill="#1c1c1c" stroke="#1c1c1c" stroke-width="0.3" textLength="18.5" lengthAdjust="spacingAndGlyphs">RNSC</text>
<rect x="358" y="255.3" width="4.8" height="4.6" fill="#472c7c"/>
<rect x="358.5" y="255.7" width="3.8" height="2.4" fill="#8c62c2"/>
<text x="365" y="260.2" font-size="6.8" fill="#1c1c1c" stroke="#1c1c1c" stroke-width="0.3" textLength="18.5" lengthAdjust="spacingAndGlyphs">CORE</text>
<rect x="358" y="269.7" width="4.8" height="4.6" fill="#146c86"/>
<rect x="358.5" y="270.1" width="3.8" height="2.4" fill="#3cc0de"/>
<text x="365" y="274.6" font-size="6.8" fill="#1c1c1c" stroke="#1c1c1c" stroke-width="0.3" textLength="36.5" lengthAdjust="spacingAndGlyphs">ClusterONE</text>
<rect x="358" y="284.3" width="4.8" height="4.6" fill="#b45808"/>
<rect x="358.5" y="284.7" width="3.8" height="2.4" fill="#ffa040"/>
<text x="365" y="289.2" font-size="6.8" fill="#1c1c1c" stroke="#1c1c1c" stroke-width="0.3" textLength="23" lengthAdjust="spacingAndGlyphs">COACH</text>
<rect x="358" y="298.7" width="4.8" height="4.6" fill="#4a68a2"/>
<rect x="358.5" y="299.1" width="3.8" height="2.4" fill="#a2bef0"/>
<text x="365" y="303.6" font-size="6.8" fill="#1c1c1c" stroke="#1c1c1c" stroke-width="0.3" textLength="23.5" lengthAdjust="spacingAndGlyphs">CFOCM</text>
</g>
</svg></body></html>
